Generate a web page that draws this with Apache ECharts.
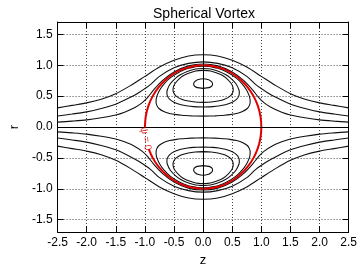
<!DOCTYPE html>
<html><head><meta charset="utf-8">
<script src="https://cdn.jsdelivr.net/npm/echarts@6/dist/echarts.min.js"></script>
<style>html,body{margin:0;padding:0;background:#fff}#c{width:360px;height:272px}</style>
</head><body><div id="c"></div>
<script>
const titleText = 'Spherical Vortex';
const xName = 'z';
const yName = 'r';
const yTicks = [-1.5, -1.0, -0.5, 0.0, 0.5, 1.0, 1.5];
const circleLabel = 'ψ = 0';
const circleLabelAt = [-0.985, -0.19];

// upper-half streamlines (z, r)
const streamA = [[-2.5,0.31],[-2.25,0.35],[-2.0,0.39],[-1.75,0.45],[-1.5,0.54],[-1.25,0.67],[-1.0,0.82],[-0.75,0.97],[-0.5,1.08],[-0.25,1.15],[0,1.17],[0.25,1.15],[0.5,1.08],[0.75,0.97],[1.0,0.82],[1.25,0.67],[1.5,0.54],[1.75,0.45],[2.0,0.39],[2.25,0.35],[2.5,0.31]];
const streamB = [[-2.5,0.178],[-2.25,0.21],[-2.0,0.245],[-1.75,0.30],[-1.5,0.37],[-1.25,0.48],[-1.1,0.56],[-0.9,0.69],[-0.75,0.82],[-0.5,0.96],[-0.25,1.03],[0,1.055],[0.25,1.03],[0.5,0.96],[0.75,0.82],[0.9,0.69],[1.1,0.56],[1.25,0.48],[1.5,0.37],[1.75,0.30],[2.0,0.245],[2.25,0.21],[2.5,0.178]];
const streamC = [[-2.5,0.079],[-2.25,0.095],[-2.0,0.115],[-1.75,0.15],[-1.5,0.195],[-1.35,0.24],[-1.18,0.31],[-1.05,0.39],[-0.96,0.47],[-0.85,0.60],[-0.7,0.75],[-0.5,0.89],[-0.25,0.99],[0,1.02],[0.25,0.99],[0.5,0.89],[0.7,0.75],[0.85,0.60],[0.96,0.47],[1.05,0.39],[1.18,0.31],[1.35,0.24],[1.5,0.195],[1.75,0.15],[2.0,0.115],[2.25,0.095],[2.5,0.079]];
const loop1 = [[0,0.176],[0.204,0.18],[0.299,0.185],[0.365,0.19],[0.458,0.2],[0.576,0.22],[0.676,0.25],[0.759,0.3],[0.795,0.35],[0.808,0.4],[0.806,0.45],[0.794,0.5],[0.746,0.6],[0.67,0.7],[0.56,0.8],[0.391,0.9],[0.254,0.95],[0.165,0.97],[0.1,0.979],[0,0.984],[-0.1,0.979],[-0.165,0.97],[-0.254,0.95],[-0.391,0.9],[-0.56,0.8],[-0.67,0.7],[-0.746,0.6],[-0.794,0.5],[-0.806,0.45],[-0.808,0.4],[-0.795,0.35],[-0.759,0.3],[-0.676,0.25],[-0.576,0.22],[-0.458,0.2],[-0.365,0.19],[-0.299,0.185],[-0.204,0.18],[0,0.176]];
const loop2 = [[0,0.324],[0.167,0.33],[0.267,0.34],[0.381,0.36],[0.502,0.4],[0.577,0.45],[0.612,0.5],[0.622,0.55],[0.616,0.6],[0.564,0.7],[0.462,0.8],[0.384,0.85],[0.272,0.9],[0.162,0.93],[0.08,0.942],[0,0.946],[-0.08,0.942],[-0.162,0.93],[-0.272,0.9],[-0.384,0.85],[-0.462,0.8],[-0.564,0.7],[-0.616,0.6],[-0.622,0.55],[-0.612,0.5],[-0.577,0.45],[-0.502,0.4],[-0.381,0.36],[-0.267,0.34],[-0.167,0.33],[0,0.324]];
const loop3 = [[0,0.399],[0.137,0.405],[0.253,0.42],[0.369,0.45],[0.463,0.5],[0.504,0.55],[0.517,0.6],[0.51,0.65],[0.486,0.7],[0.388,0.8],[0.303,0.85],[0.157,0.9],[0.08,0.9125],[0,0.917],[-0.08,0.9125],[-0.157,0.9],[-0.303,0.85],[-0.388,0.8],[-0.486,0.7],[-0.51,0.65],[-0.517,0.6],[-0.504,0.55],[-0.463,0.5],[-0.369,0.45],[-0.253,0.42],[-0.137,0.405],[0,0.399]];
const loop4 = [[0,0.625],[0.1,0.638],[0.14,0.655],[0.16,0.68],[0.162,0.7],[0.152,0.725],[0.13,0.745],[0.095,0.765],[0,0.781],[-0.095,0.765],[-0.13,0.745],[-0.152,0.725],[-0.162,0.7],[-0.16,0.68],[-0.14,0.655],[-0.1,0.638],[0,0.625]];
// red dividing streamline (psi = 0), broken where the label sits
const psiZero = [[-0.934,-0.358],[-0.866,-0.5],[-0.766,-0.643],[-0.643,-0.766],[-0.5,-0.866],[-0.342,-0.94],[-0.174,-0.985],[0,-1],[0.174,-0.985],[0.342,-0.94],[0.5,-0.866],[0.643,-0.766],[0.766,-0.643],[0.866,-0.5],[0.94,-0.342],[0.985,-0.174],[1,0],[0.985,0.174],[0.94,0.342],[0.866,0.5],[0.766,0.643],[0.643,0.766],[0.5,0.866],[0.342,0.94],[0.174,0.985],[0,1],[-0.174,0.985],[-0.342,0.94],[-0.5,0.866],[-0.643,0.766],[-0.766,0.643],[-0.866,0.5],[-0.94,0.342],[-0.985,0.174],[-1,0]];

const upperCurves = [streamA, streamB, streamC, loop1, loop2, loop3, loop4];
const FONT = 'Liberation Sans, Arial, sans-serif';

const series = [];
upperCurves.forEach(c => {
  // upper half and its mirror image in the lower half (r -> -r)
  [c, c.map(p => [p[0], -p[1]])].forEach(d => series.push({
    type: 'line', data: d, smooth: 0.25, symbol: 'none', silent: true,
    lineStyle: {color: '#111', width: 1.1}, z: 3
  }));
});
series.push({
  type: 'line', data: psiZero, smooth: 0.25, symbol: 'none', silent: true,
  lineStyle: {color: '#e00000', width: 2}, z: 4
});
series.push({
  type: 'scatter', data: [circleLabelAt], symbolSize: 0, silent: true, z: 5,
  label: {show: true, position: 'inside', formatter: circleLabel, rotate: -79,
    color: '#e00000', fontSize: 10, fontFamily: FONT}
});
series.push({
  type: 'line', data: [], symbol: 'none', silent: true,
  markLine: {silent: true, symbol: 'none', label: {show: false},
    lineStyle: {color: '#000', width: 1, type: 'solid'},
    data: [{yAxis: 0}, {xAxis: 0}], animation: false}
});

const tickCommon = {inside: true, length: 6, lineStyle: {color: '#000', width: 1}};
const lineCommon = {show: true, onZero: false, lineStyle: {color: '#000', width: 1}};
const gridLine = {show: true, lineStyle: {color: '#444', width: 1, type: [1, 2]}};

const chart = echarts.init(document.getElementById('c'), null, {renderer: 'canvas'});
chart.setOption({
  animation: false,
  backgroundColor: '#fff',
  title: {text: titleText, left: 199, top: 2, textAlign: 'center',
    textStyle: {fontSize: 14, fontWeight: 'normal', color: '#000', fontFamily: FONT}},
  grid: {left: 47, right: 10, top: 22, bottom: 35, containLabel: false},
  xAxis: [
    {type: 'value', min: -2.5, max: 2.5, interval: 0.5, position: 'bottom',
      name: xName, nameLocation: 'middle', nameGap: 22,
      nameTextStyle: {fontSize: 13, color: '#000', fontFamily: FONT},
      axisLine: lineCommon, axisTick: tickCommon,
      axisLabel: {formatter: v => v.toFixed(1), color: '#000', fontSize: 12, margin: 5, fontFamily: FONT},
      splitLine: gridLine},
    {type: 'value', min: -2.5, max: 2.5, interval: 0.5, position: 'top',
      axisLine: lineCommon, axisTick: tickCommon, axisLabel: {show: false}, splitLine: {show: false}}
  ],
  yAxis: [
    {type: 'value', min: -1.7, max: 1.7, position: 'left',
      name: yName, nameLocation: 'middle', nameGap: 32,
      nameTextStyle: {fontSize: 13, color: '#000', fontFamily: FONT},
      axisLine: lineCommon,
      axisTick: Object.assign({customValues: yTicks}, tickCommon),
      axisLabel: {customValues: yTicks, formatter: v => v.toFixed(1), color: '#000', fontSize: 12, margin: 5, fontFamily: FONT},
      splitLine: gridLine},
    {type: 'value', min: -1.7, max: 1.7, position: 'right',
      axisLine: lineCommon,
      axisTick: Object.assign({customValues: yTicks}, tickCommon),
      axisLabel: {show: false, customValues: yTicks}, splitLine: {show: false}}
  ],
  series: series
});
</script>
</body></html>
